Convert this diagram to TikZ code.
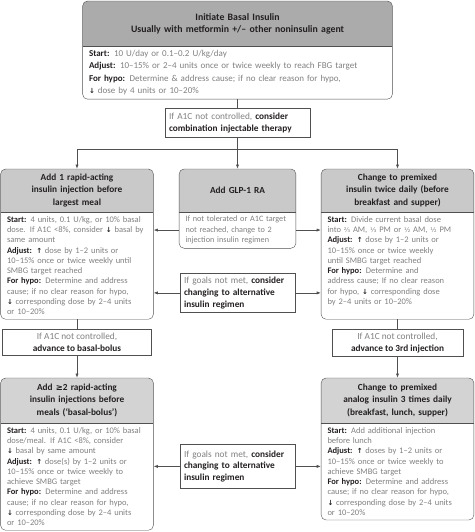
\documentclass[tikz,border=0pt]{standalone}
\usepackage{fontspec}
\setmainfont{Carlito}
\newfontfamily\symfont{DejaVu Sans}
\usepackage{xcolor}
\usepackage{tikz}
\usetikzlibrary{arrows.meta,positioning,backgrounds}
\definecolor{hdrdark}{HTML}{ABABAB}
\definecolor{hdrmid}{HTML}{C9C9C9}
\definecolor{hdrlight}{HTML}{D3D3D3}
\definecolor{rulegrey}{HTML}{505050}
\definecolor{bodygrey}{HTML}{808080}
\definecolor{inkdark}{HTML}{231F20}
\newcommand{\lbl}[1]{{\color{inkdark}\bfseries #1}}
\newcommand{\uparr}{{\color{inkdark}\symfont\bfseries\fontsize{7}{7}\selectfont ↑}}
\newcommand{\dnarr}{{\color{inkdark}\symfont\bfseries\fontsize{7}{7}\selectfont ↓}}
\newcommand{\frc}[1]{{\symfont\fontsize{6.5}{7}\selectfont #1}}

\begin{document}
\begin{tikzpicture}[
    x=1pt, y=-1pt,
    line width=0.8pt,
    boxhead/.style={inner xsep=4pt, inner ysep=0pt, align=center, text=inkdark,
                    font=\fontsize{9.3}{12.3}\selectfont\bfseries},
    boxbody/.style={inner xsep=6pt, inner ysep=4pt, align=left, text=bodygrey,
                    font=\fontsize{8.5}{10.3}\selectfont},
    askbox/.style={draw=rulegrey, inner xsep=4pt, inner ysep=3pt, text=bodygrey,
                   font=\fontsize{9.3}{11.7}\selectfont},
    arr/.style={-{Latex[length=4.5pt,width=3.2pt]}, draw=rulegrey},
    link/.style={draw=rulegrey},
]
    \useasboundingbox (0,0) rectangle (474,532);

    % basal insulin start
    \node[boxhead, text width=301pt, minimum height=44pt, anchor=north,
          font=\fontsize{9.8}{12}\selectfont\bfseries] (inith) at (237.5,1)
          {Initiate Basal Insulin\\Usually with metformin +/– other noninsulin agent};
    \node[boxbody, text width=297pt, below=0pt of inith, font=\fontsize{9}{12.3}\selectfont] (initb)
          {\lbl{Start:} 10 U/day or 0.1–0.2 U/kg/day\\
           \lbl{Adjust:} 10–15\% or 2–4 units once or twice weekly to reach FBG target\\
           \lbl{For hypo:} Determine \& address cause; if no clear reason for hypo,\\
           \dnarr{} dose by 4 units or 10–20\%};

    \node[askbox, text width=137pt, minimum height=29pt, anchor=north] (combo) at (237.5,108)
          {If A1C not controlled, \lbl{consider}\\\lbl{combination injectable therapy}};

    % second row
    \node[boxhead, text width=144pt, minimum height=42pt, anchor=north] (rapidh) at (77,169)
          {Add 1 rapid-acting\\insulin injection before\\largest meal};
    \node[boxbody, text width=140pt, below=0pt of rapidh] (rapidb)
          {\lbl{Start:} 4 units, 0.1 U/kg, or 10\% basal\\
           dose. If A1C <8\%, consider \dnarr{} basal by\\
           same amount\\
           \lbl{Adjust:} \uparr{} dose by 1–2 units or\\
           10–15\% once or twice weekly until\\
           SMBG target reached\\
           \lbl{For hypo:} Determine and address\\
           cause; if no clear reason for hypo,\\
           \dnarr{} corresponding dose by 2–4 units\\
           or 10–20\%};

    \node[boxhead, text width=108pt, minimum height=42pt, anchor=north] (glph) at (237.5,169)
          {Add GLP-1 RA};
    \node[boxbody, inner xsep=6pt, text width=104pt, below=0pt of glph,
          font=\fontsize{8.2}{10.3}\selectfont] (glpb)
          {If not tolerated or A1C target\\not reached, change to 2\\injection insulin regimen};

    \node[boxhead, text width=144pt, minimum height=42pt, anchor=north] (mix2h) at (397.5,169)
          {Change to premixed\\insulin twice daily (before\\breakfast and supper)};
    \node[boxbody, text width=140pt, below=0pt of mix2h] (mix2b)
          {\lbl{Start:} Divide current basal dose\\
           into \frc{⅔} AM, \frc{⅓} PM or \frc{½} AM, \frc{½} PM\\
           \lbl{Adjust:} \uparr{} dose by 1–2 units or\\
           10–15\% once or twice weekly\\
           until SMBG target reached\\
           \lbl{For hypo:} Determine and\\
           address cause; If no clear reason\\
           for hypo, \dnarr{} corresponding dose\\
           by 2–4 units or 10–20\%};

    \node[askbox, text width=107pt, minimum height=39pt, anchor=north] (alt1) at (237.5,273)
          {If goals not met, \lbl{consider}\\\lbl{changing to alternative}\\\lbl{insulin regimen}};

    \node[askbox, align=center, minimum width=149pt, minimum height=26pt, anchor=north] (bolusq) at (77,329)
          {If A1C not controlled,\\\lbl{advance to basal-bolus}};
    \node[askbox, align=center, minimum width=131pt, minimum height=27pt, anchor=north] (thirdq) at (397.5,329)
          {If A1C not controlled,\\\lbl{advance to 3rd injection}};

    % third row
    \node[boxhead, text width=144pt, minimum height=44pt, anchor=north] (basbolh) at (77,378)
          {Add {\symfont\fontsize{8.5}{10}\selectfont ≥}2 rapid-acting\\insulin injections before\\meals (‘basal-bolus’)};
    \node[boxbody, text width=140pt, below=0pt of basbolh] (basbolb)
          {\lbl{Start:} 4 units, 0.1 U/kg, or 10\% basal\\
           dose/meal. If A1C <8\%, consider\\
           \dnarr{} basal by same amount\\
           \lbl{Adjust:} \uparr{} dose(s) by 1–2 units or\\
           10–15\% once or twice weekly to\\
           achieve SMBG target\\
           \lbl{For hypo:} Determine and address\\
           cause; if no clear reason for hypo,\\
           \dnarr{} corresponding dose by 2–4 units\\
           or 10–20\%};

    \node[boxhead, text width=144pt, minimum height=44pt, anchor=north] (mix3h) at (397.5,378)
          {Change to premixed\\analog insulin 3 times daily\\(breakfast, lunch, supper)};
    \node[boxbody, text width=140pt, below=0pt of mix3h] (mix3b)
          {\lbl{Start:} Add additional injection\\
           before lunch\\
           \lbl{Adjust:} \uparr{} doses by 1–2 units or\\
           10–15\% once or twice weekly to\\
           achieve SMBG target\\
           \lbl{For hypo:} Determine and address\\
           cause; if no clear reason for hypo,\\
           \dnarr{} corresponding dose by 2–4 units\\
           or 10–20\%};

    \node[askbox, text width=107pt, minimum height=44pt, anchor=north] (alt2) at (237.5,444)
          {If goals not met, \lbl{consider}\\\lbl{changing to alternative}\\\lbl{insulin regimen}};

    % frames and shaded heads
    \foreach \h/\b/\f/\c in {inith/initb/initb/hdrdark, rapidh/rapidb/rapidb/hdrmid,
                             glph/glpb/glpb/hdrmid, mix2h/mix2b/rapidb/hdrmid,
                             basbolh/basbolb/basbolb/hdrlight, mix3h/mix3b/mix3b/hdrlight} {
        \begin{scope}[on background layer]
            \begin{scope}
                \clip[rounded corners=5pt] (\h.north west) rectangle (\b.east |- \f.south);
                \fill[\c] (\h.north west) rectangle (\h.south east);
            \end{scope}
            \draw[rulegrey, rounded corners=5pt] (\h.north west) rectangle (\b.east |- \f.south);
            \draw[rulegrey] (\h.south west) -- (\h.south east);
        \end{scope}
    }

    % connectors
    \draw[link] (initb) -- (combo);
    \draw[arr] (combo) -- (glph);
    \draw[arr] (combo.south) -- ++(0,12) -| (rapidh);
    \draw[arr] (combo.south) -- ++(0,12) -| (mix2h);
    \draw[arr] (glpb.west) -- (glpb.west -| rapidb.east);
    \draw[arr] (glpb.east) -- (glpb.east -| mix2b.west);
    \draw[arr] (alt1.west) -- (alt1.west -| rapidb.east);
    \draw[arr] (alt1.east) -- (alt1.east -| mix2b.west);
    \draw[link] (rapidb.south) -- (bolusq.north);
    \draw[link] (mix2b.south |- rapidb.south) -- (thirdq.north);
    \draw[arr] (bolusq) -- (basbolh);
    \draw[arr] (thirdq) -- (mix3h);
    \draw[arr] (alt2.west) -- (alt2.west -| basbolb.east);
    \draw[arr] (alt2.east) -- (alt2.east -| mix3b.west);
\end{tikzpicture}
\end{document}
